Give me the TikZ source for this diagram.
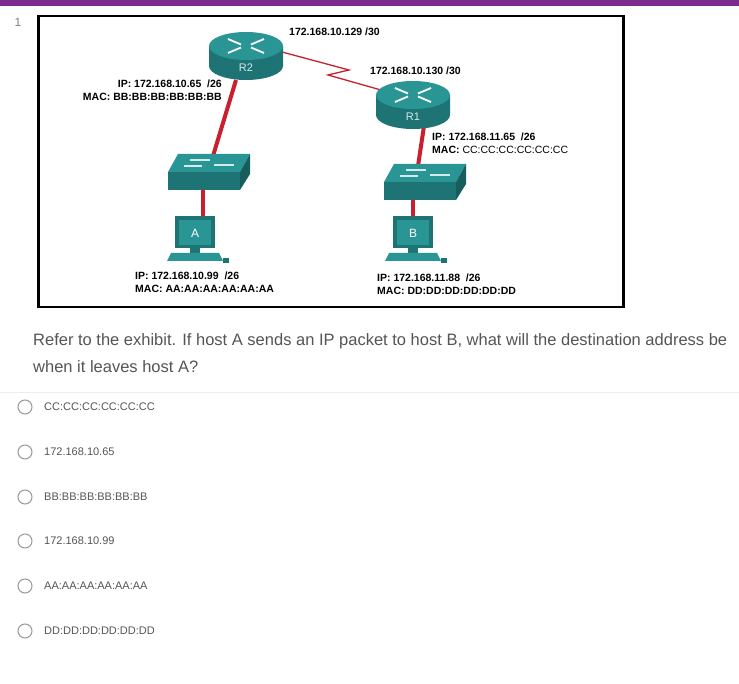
\documentclass[tikz,border=0pt]{standalone}
\usepackage{fontspec}
\setmainfont{Liberation Sans}
\usetikzlibrary{arrows.meta}
\definecolor{teal1}{HTML}{2A9595}
\definecolor{teal2}{HTML}{1E7474}
\definecolor{link}{HTML}{C8202E}
\definecolor{purp}{HTML}{7B2D8E}
\definecolor{txt}{HTML}{555555}
\tikzset{
  lbl/.style={font=\fontsize{10.5}{12.5}\selectfont\bfseries, align=left, inner sep=0pt, anchor=north west},
  eth/.style={link, line width=4pt},
  opt/.style={font=\fontsize{11}{12}\selectfont, text=txt, anchor=west, inner sep=0pt},
  radio/.style={draw=gray!80, line width=1pt, circle, minimum size=14pt, inner sep=0pt},
}
\newcommand{\myrouter}[3]{% name, pos, label
  \begin{scope}[shift={#2}]
    \fill[teal2] (-37,0) -- (-37,20) arc[start angle=180,end angle=0,x radius=37,y radius=14] -- (37,0) -- cycle;
    \fill[teal1] (0,0) ellipse[x radius=37,y radius=14];
    \draw[white, line width=1.8pt] (-18,-7) -- (-5,-1.5) (18,-7) -- (5,-1.5) (-18,7) -- (-5,1.5) (18,7) -- (5,1.5);
    \node[text=white!80!teal1, font=\fontsize{11}{12}\selectfont] at (0,22) {#3};
  \end{scope}
  \coordinate (#1) at #2;}
\newcommand{\myswitch}[2]{%
  \begin{scope}[shift={#2}]
    \fill[teal1] (-30,-16) -- (42,-16) -- (32,2) -- (-40,2) -- cycle;
    \fill[teal2] (-40,2) rectangle (32,20);
    \fill[teal2!80!black] (32,2) -- (42,-16) -- (42,4) -- (32,20) -- cycle;
    \draw[white!80!teal1, line width=1.2pt] (-18,-10) -- (2,-10) (6,-5) -- (26,-5) (-24,-4) -- (-6,-4);
  \end{scope}
  \coordinate (#1) at #2;}
\newcommand{\mypc}[3]{%
  \begin{scope}[shift={#2}]
    \fill[teal2] (-20,-26) rectangle (20,6);
    \fill[teal1] (-16,-22) rectangle (16,3);
    \node[text=white, font=\fontsize{12}{13}\selectfont] at (0,-9) {#3};
    \fill[teal2] (-5,6) rectangle (5,11);
    \fill[teal1] (-24,11) -- (24,11) -- (28,19) -- (-28,19) -- cycle;
    \fill[teal2] (28,16) rectangle (34,21);
  \end{scope}
  \coordinate (#1) at #2;}
\begin{document}
\begin{tikzpicture}[x=1pt,y=-1pt]
\useasboundingbox (0,0) rectangle (739,684);
\fill[white] (0,0) rectangle (739,684);
\fill[purp] (0,0) rectangle (739,6);
\node[text=gray, font=\fontsize{12}{13}\selectfont] (num) at (18,22) {1};
\node[draw, line width=2.5pt, minimum width=585pt, minimum height=291pt, anchor=north west, inner sep=0pt] (box) at (37,15) {};
% links
\draw[eth] (236,80) -- (213,156);
\draw[eth] (203,188) -- (203,218);
\draw[eth] (424,126) -- (418,166);
\draw[eth] (413,198) -- (413,218);
\draw[link, line width=1.3pt] (282,52) -- (349,70) -- (328,75) -- (388,92);
\myrouter{R2}{(246,46)}{R2}
\myrouter{R1}{(413,95)}{R1}
\myswitch{S1}{(208,170)}
\myswitch{S2}{(424,180)}
\mypc{A}{(195,242)}{A}
\mypc{B}{(413,242)}{B}
\node[lbl] (l1) at (289,28) {172.168.10.129 /30};
\node[lbl] (l2) at (370,67) {172.168.10.130 /30};
\node[lbl, align=right, anchor=north east] (l3) at (222,80) {IP: 172.168.10.65 \ /26\\MAC: BB:BB:BB:BB:BB:BB};
\node[lbl] (l4) at (432,133) {IP: 172.168.11.65 \ /26\\MAC: \mdseries CC:CC:CC:CC:CC:CC};
\node[lbl] (l5) at (135,272) {IP: 172.168.10.99 \ /26\\MAC: AA:AA:AA:AA:AA:AA};
\node[lbl] (l6) at (377,274) {IP: 172.168.11.88 \ /26\\MAC: DD:DD:DD:DD:DD:DD};
% question
\node[anchor=north west, align=left, text=txt, font=\fontsize{16.5}{27}\selectfont, inner sep=0pt] (q) at (33,333) {Refer to the exhibit. If host A sends an IP packet to host B, what will the destination address be\\when it leaves host A?};
\draw[gray!15, line width=0.8pt] (0,392) -- (739,392);
\foreach \y/\t [count=\i] in {407/CC:CC:CC:CC:CC:CC, 452/172.168.10.65, 497/BB:BB:BB:BB:BB:BB, 541/172.168.10.99, 586/AA:AA:AA:AA:AA:AA, 631/DD:DD:DD:DD:DD:DD}{
  \node[radio] (c\i) at (25,\y) {};
  \node[opt] (o\i) at (44,\y) {\t};
}
\end{tikzpicture}
\end{document}
